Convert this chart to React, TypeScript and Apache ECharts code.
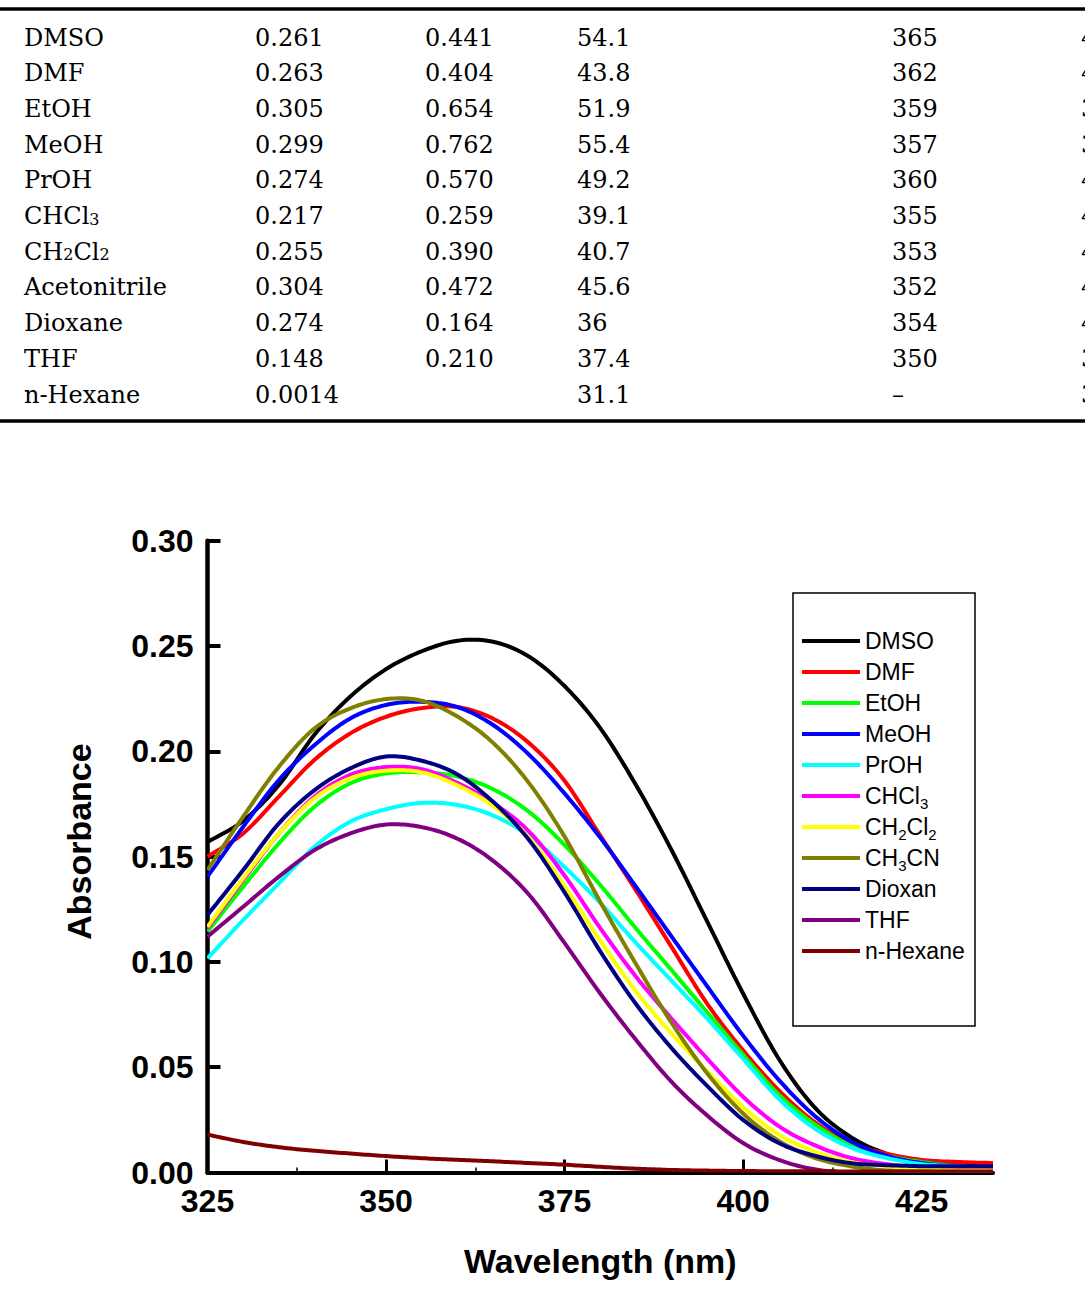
import React, { useEffect, useRef } from "react";
import * as echarts from "echarts";

// ---------- spectral data (wavelength in nm, absorbance) ----------
const wavelengths = [325, 330, 335, 340, 345, 350, 355, 360, 365, 370, 375, 380, 385, 390, 395, 400, 405, 410, 415, 420, 425, 430, 435];

const dmso = [0.157, 0.167, 0.184, 0.208, 0.226, 0.239, 0.2475, 0.2525, 0.252, 0.245, 0.231, 0.211, 0.184, 0.153, 0.119, 0.085, 0.054, 0.031, 0.017, 0.009, 0.005, 0.0035, 0.003];
const dmf = [0.150, 0.161, 0.1785, 0.196, 0.2085, 0.2164, 0.2205, 0.221, 0.2155, 0.204, 0.186, 0.160, 0.134, 0.107, 0.080, 0.058, 0.039, 0.024, 0.014, 0.009, 0.006, 0.005, 0.0045];
const etoh = [0.1144, 0.1357, 0.1563, 0.1737, 0.1848, 0.1895, 0.190, 0.188, 0.182, 0.1713, 0.1555, 0.1365, 0.1159, 0.096, 0.076, 0.056, 0.037, 0.023, 0.013, 0.008, 0.005, 0.003, 0.0025];
const meoh = [0.1405, 0.1642, 0.1864, 0.203, 0.2156, 0.222, 0.2235, 0.221, 0.2125, 0.1985, 0.180, 0.159, 0.1357, 0.112, 0.0883, 0.065, 0.044, 0.027, 0.015, 0.008, 0.0045, 0.003, 0.0025];
const proh = [0.1017, 0.1199, 0.1373, 0.1547, 0.1666, 0.1725, 0.1755, 0.1745, 0.1695, 0.160, 0.145, 0.128, 0.109, 0.091, 0.073, 0.054, 0.035, 0.021, 0.012, 0.007, 0.004, 0.003, 0.002];
const chcl3 = [0.1159, 0.1389, 0.161, 0.1785, 0.1888, 0.1925, 0.1915, 0.185, 0.1755, 0.162, 0.141, 0.116, 0.093, 0.073, 0.054, 0.036, 0.022, 0.013, 0.007, 0.004, 0.0025, 0.002, 0.002];
const ch2cl2 = [0.1167, 0.1397, 0.161, 0.1777, 0.1872, 0.1908, 0.190, 0.1838, 0.174, 0.159, 0.136, 0.110, 0.086, 0.066, 0.048, 0.031, 0.018, 0.010, 0.005, 0.003, 0.0015, 0.001, 0.001];
const ch3cn = [0.1436, 0.169, 0.1927, 0.2109, 0.2204, 0.2248, 0.224, 0.2165, 0.204, 0.185, 0.1595, 0.1285, 0.099, 0.071, 0.047, 0.028, 0.015, 0.007, 0.003, 0.001, 0.0005, 0.0003, 0.0003];
const dioxan = [0.1223, 0.1436, 0.1658, 0.1816, 0.1919, 0.1975, 0.1955, 0.189, 0.176, 0.158, 0.133, 0.105, 0.080, 0.059, 0.041, 0.025, 0.014, 0.008, 0.0045, 0.0035, 0.003, 0.003, 0.003];
const thf = [0.112, 0.1262, 0.1405, 0.1531, 0.161, 0.1652, 0.164, 0.1585, 0.148, 0.132, 0.109, 0.085, 0.063, 0.043, 0.027, 0.014, 0.006, 0.0015, 0, 0, 0, 0, 0];
const hexane = [0.018, 0.0145, 0.012, 0.0103, 0.009, 0.0078, 0.0068, 0.006, 0.0053, 0.0045, 0.0037, 0.0027, 0.0018, 0.0012, 0.0009, 0.0007, 0.0006, 0.0006, 0.0005, 0.0005, 0.0005, 0.0005, 0.0005];

const curveNames = ["DMSO", "DMF", "EtOH", "MeOH", "PrOH", "CHCl3", "CH2Cl2", "CH3CN", "Dioxan", "THF", "n-Hexane"];
const curveColors = ["#000000", "#ff0000", "#00ff00", "#0000ff", "#00ffff", "#ff00ff", "#ffff00", "#808000", "#000080", "#800080", "#800000"];
const curveValues = [dmso, dmf, etoh, meoh, proh, chcl3, ch2cl2, ch3cn, dioxan, thf, hexane];

const xTickValues = [325, 350, 375, 400, 425];

// ---------- table data ----------
const tableSolvents = ["DMSO", "DMF", "EtOH", "MeOH", "PrOH", "CHCl3", "CH2Cl2", "Acetonitrile", "Dioxane", "THF", "n-Hexane"];
const tableColA = ["0.261", "0.263", "0.305", "0.299", "0.274", "0.217", "0.255", "0.304", "0.274", "0.148", "0.0014"];
const tableColB = ["0.441", "0.404", "0.654", "0.762", "0.570", "0.259", "0.390", "0.472", "0.164", "0.210", ""];
const tableColC = ["54.1", "43.8", "51.9", "55.4", "49.2", "39.1", "40.7", "45.6", "36", "37.4", "31.1"];
const tableColD = ["365", "362", "359", "357", "360", "355", "353", "352", "354", "350", "\u2013"];
const tableColE = ["4", "4", "3", "3", "4", "4", "4", "4", "4", "3", "3"];

const SERIF = '"DejaVu Serif", serif';
const SANS = '"Liberation Sans", Arial, sans-serif';

function formulaRich(name: string): string {
  const m: Record<string, string> = {
    CHCl3: "{n|CHCl}{s|3}",
    CH2Cl2: "{n|CH}{s|2}{n|Cl}{s|2}",
    CH3CN: "{n|CH}{s|3}{n|CN}",
  };
  return m[name] || "{n|" + name + "}";
}

// Catmull-Rom spline through pixel points (rendering only; data stays as read)
function splinePoints(pts: number[][], steps: number): number[][] {
  const out: number[][] = [];
  const n = pts.length;
  for (let i = 0; i < n - 1; i++) {
    const p0 = pts[Math.max(0, i - 1)];
    const p1 = pts[i];
    const p2 = pts[i + 1];
    const p3 = pts[Math.min(n - 1, i + 2)];
    for (let s = 0; s < steps; s++) {
      const t = s / steps;
      const t2 = t * t;
      const t3 = t2 * t;
      const f = (a: number, b: number, c: number, d: number) =>
        0.5 * (2 * b + (-a + c) * t + (2 * a - 5 * b + 4 * c - d) * t2 + (-a + 3 * b - 3 * c + d) * t3);
      out.push([f(p0[0], p1[0], p2[0], p3[0]), f(p0[1], p1[1], p2[1], p3[1])]);
    }
  }
  out.push(pts[n - 1]);
  return out;
}

function buildTable(): any[] {
  const els: any[] = [];
  const colX = [24, 255, 425, 577, 892, 1081];
  const rowY = (i: number) => 37.5 + i * 35.7;
  const rich = {
    n: { fontFamily: SERIF, fontSize: 24, lineHeight: 22, color: "#000", verticalAlign: "middle" },
    s: { fontFamily: SERIF, fontSize: 16, lineHeight: 2, color: "#000", verticalAlign: "bottom" },
  };
  els.push({ type: "line", shape: { x1: 0, y1: 9, x2: 1085, y2: 9 }, style: { stroke: "#000", lineWidth: 3.5 } });
  els.push({ type: "line", shape: { x1: 0, y1: 421, x2: 1085, y2: 421 }, style: { stroke: "#000", lineWidth: 3.5 } });
  const cols = [tableColA, tableColB, tableColC, tableColD, tableColE];
  tableSolvents.forEach((s, i) => {
    els.push({
      type: "text",
      x: colX[0],
      y: rowY(i),
      style: { text: formulaRich(s), rich, fill: "#000", verticalAlign: "middle", align: "left" },
    });
    cols.forEach((c, j) => {
      if (!c[i]) return;
      els.push({
        type: "text",
        x: colX[j + 1],
        y: rowY(i),
        style: { text: c[i], fontFamily: SERIF, fontSize: 24, fill: "#000", verticalAlign: "middle", align: "left" },
      });
    });
  });
  return els;
}

export default function App() {
  const ref = useRef<HTMLDivElement>(null);
  useEffect(() => {
    if (!ref.current) return;
    const chart = echarts.init(ref.current, null, { renderer: "svg" });
    const series = curveNames.map((name, k) => ({
      type: "custom",
      name,
      data: wavelengths.map((w, i) => [w, curveValues[k][i]]),
      encode: { x: 0, y: 1 },
      clip: true,
      color: curveColors[k],
      itemStyle: { color: curveColors[k] },
      z: 2 + k * 0.01,
      renderItem: (params: any, api: any) => {
        if (params.dataIndex !== 0) return null;
        const pts = wavelengths.map((w, i) => api.coord([w, curveValues[k][i]]));
        return {
          type: "polyline",
          silent: true,
          shape: { points: splinePoints(pts, 12) },
          style: { stroke: curveColors[k], lineWidth: 4, fill: "none", lineJoin: "round", lineCap: "butt" },
        };
      },
    }));
    chart.setOption({
      animation: false,
      backgroundColor: "#ffffff",
      grid: { left: 207.5, right: 92, top: 540.7, bottom: 135.5 },
      xAxis: {
        type: "value",
        min: 325,
        max: 435,
        interval: 25,
        name: "Wavelength (nm)",
        nameLocation: "middle",
        nameGap: 71,
        nameTextStyle: { fontFamily: SANS, fontSize: 34, fontWeight: "bold", color: "#000" },
        axisLine: { show: true, onZero: false, lineStyle: { color: "#000", width: 4 } },
        axisTick: { show: true, inside: true, length: 13, customValues: xTickValues, lineStyle: { color: "#000", width: 3 } },
        minorTick: { show: true, splitNumber: 2, length: 5, lineStyle: { color: "#000", width: 1.5 } },
        axisLabel: {
          customValues: xTickValues,
          margin: 12,
          fontFamily: SANS,
          fontSize: 32,
          fontWeight: "bold",
          color: "#000",
        },
        splitLine: { show: false },
      },
      yAxis: {
        type: "value",
        min: 0,
        max: 0.3,
        interval: 0.05,
        name: "Absorbance",
        nameLocation: "middle",
        nameGap: 112,
        nameRotate: 90,
        nameTextStyle: { fontFamily: SANS, fontSize: 34, fontWeight: "bold", color: "#000", padding: [0, 0, 0, 30] },
        axisLine: { show: true, lineStyle: { color: "#000", width: 4.5 } },
        axisTick: { show: true, inside: true, length: 13, lineStyle: { color: "#000", width: 4 } },
        axisLabel: {
          margin: 14,
          fontFamily: SANS,
          fontSize: 32,
          fontWeight: "bold",
          color: "#000",
          formatter: (v: number) => v.toFixed(2),
        },
        splitLine: { show: false },
      },
      legend: {
        show: true,
        orient: "vertical",
        left: 802,
        top: 626,
        padding: 0,
        itemGap: 1,
        itemWidth: 58,
        itemHeight: 4,
        icon: "rect",
        selectedMode: false,
        data: curveNames.map((n, k) => ({ name: n, itemStyle: { color: curveColors[k] } })),
        formatter: (name: string) => formulaRich(name),
        textStyle: {
          fontFamily: SANS,
          fontSize: 23,
          color: "#000",
          lineHeight: 30,
          rich: {
            n: { fontFamily: SANS, fontSize: 23, color: "#000", lineHeight: 30, verticalAlign: "middle" },
            s: { fontFamily: SANS, fontSize: 15, color: "#000", lineHeight: 2, verticalAlign: "bottom" },
          },
        },
      },
      graphic: [
        ...buildTable(),
        {
          type: "rect",
          shape: { x: 793, y: 593, width: 182, height: 433 },
          style: { fill: "none", stroke: "#000", lineWidth: 1.5 },
        },
      ],
      series,
    });
    return () => chart.dispose();
  }, []);
  return (
    <div
      ref={ref}
      style={{ position: "absolute", left: 0, top: 0, width: 1085, height: 1308, background: "#fff" }}
    />
  );
}
